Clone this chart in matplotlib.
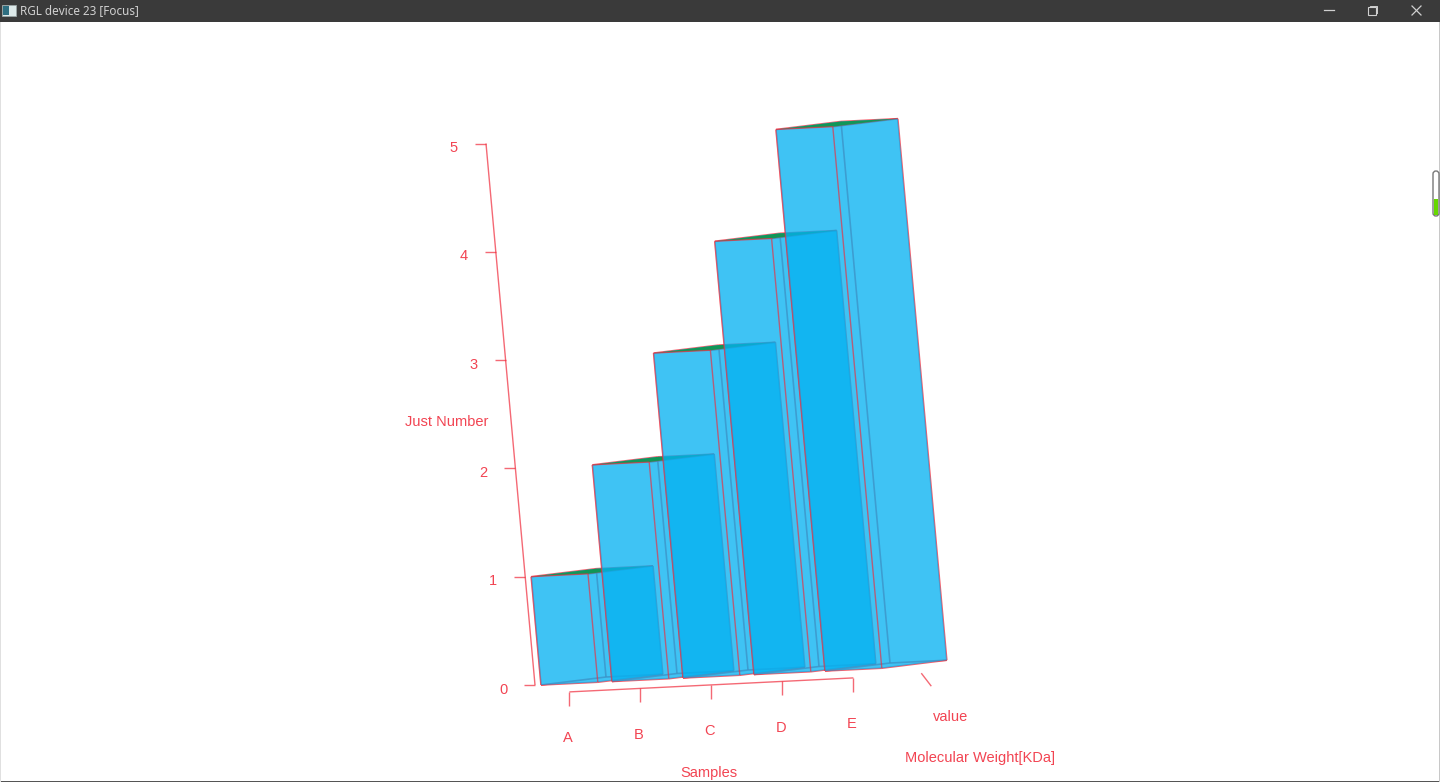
import numpy as np
import matplotlib
matplotlib.use("Agg")
import matplotlib.pyplot as plt
from matplotlib.patches import Polygon, Rectangle, FancyBboxPatch

samples = ["A", "B", "C", "D", "E"]
values = [1, 2, 3, 4, 5]
z_ticks = [0, 1, 2, 3, 4, 5]
x_title = "Samples"
y_title = "Molecular Weight[KDa]"
y_tick_label = "value"
z_title = "Just Number"
window_title = "RGL device 23 [Focus]"

RED = "#F02A3A"
FILL = "#04B1F1"
GREEN = "#109658"

plt.rcParams["font.family"] = ["Liberation Sans", "DejaVu Sans"]
fig = plt.figure(figsize=(14.4, 7.82), dpi=100)
ax = fig.add_axes([0, 0, 1, 1])
ax.set_xlim(0, 1440)
ax.set_ylim(782, 0)
ax.axis("off")

# scene projection: sample position, depth, value -> screen position
ORIGIN = np.array([541.0, 685.0])
EX = np.array([71.0, -3.5])
EY = np.array([65.0, -8.0])
EZ = np.array([-9.8, -108.3])
BAR_W = 0.8


def proj(x, y, z):
    return ORIGIN + x * EX + y * EY + z * EZ


def line(a, b, color=RED, lw=1.0, alpha=0.7, z=1):
    ax.plot([a[0], b[0]], [a[1], b[1]], color=color, lw=lw, alpha=alpha,
            zorder=z, solid_capstyle="butt")


# bars, drawn back to front along the sample axis
z = 2
for i, v in enumerate(values):
    x0, x1 = i, i + BAR_W
    fl0, fr0, br0, bl0 = [proj(a, b, 0) for a, b in ((x0, 0), (x1, 0), (x1, 1), (x0, 1))]
    fl1, fr1, br1, bl1 = [proj(a, b, v) for a, b in ((x0, 0), (x1, 0), (x1, 1), (x0, 1))]
    # hidden edges sit under the translucent body
    for a, b in ((fl0, fr0), (fr0, br0), (br0, bl0), (bl0, fl0), (bl0, bl1), (br0, br1),
                 (bl1, br1), (fl0, fl1), (bl1, fl1), (fr1, br1)):
        line(a, b, lw=1.2, alpha=0.75, z=z)
    z += 1
    ax.add_patch(Polygon([fl0, fr0, br0, br1, bl1, fl1], closed=True, facecolor=FILL,
                         edgecolor="none", alpha=0.766, zorder=z))
    z += 1
    ax.add_patch(Polygon([fl1, fr1, br1, bl1], closed=True, facecolor=GREEN,
                         edgecolor="none", zorder=z))
    z += 1
    line(fl1, fr1, lw=0.9, alpha=0.7, z=z)
    line(fr1, br1, lw=0.6, alpha=0.25, z=z)
    line(fr0, fr1, lw=1.0, alpha=0.65, z=z)
    line(fl0, fl1, lw=0.9, alpha=0.3, z=z)
    z += 1

# value axis
TXT = dict(color=RED, fontsize=10.5, ha="center", va="center", alpha=0.88)
base = proj(0, 0, 0) + np.array([-6, 0])
zt = np.array(z_ticks, dtype=float)
line(base + zt[0] * EZ, base + zt[-1] * EZ)
for t in z_ticks:
    p = base + t * EZ
    line(p, p + np.array([-11, 0]))
    ax.text(*(p + np.array([-32, 4.5])), str(t), **TXT)
ax.text(*(base + 2.44 * EZ + np.array([-64, 1])), z_title, **TXT)

# sample axis
ax_off = np.array([0, 8.3])
tick_off = np.array([0, 14])
lab_off = np.array([-1.5, 54.5])
cx = [i + BAR_W / 2 for i in range(len(samples))]
line(proj(cx[0], 0, 0) + ax_off, proj(cx[-1], 0, 0) + ax_off)
for c, s in zip(cx, samples):
    p = proj(c, 0, 0) + ax_off
    line(p, p + tick_off)
    ax.text(*(proj(c, 0, 0) + lab_off), s, **TXT)
ax.text(*(proj(np.mean(cx), 0, 0) + np.array([-2, 96])), x_title, **TXT)

# depth axis
p = proj(len(samples) - 1 + BAR_W, 0.5, 0)
line(p + np.array([7, 9]), p + np.array([17, 22]))
ax.text(*(p + np.array([36, 53])), y_tick_label, **TXT)
ax.text(*(p + np.array([66, 94])), y_title, **TXT)

# window frame
ax.add_patch(Rectangle((0, 0), 1440, 22, facecolor="#3A3A3A", edgecolor="none", zorder=50))
ax.add_patch(Rectangle((0, 781), 1440, 1, facecolor="#555555", edgecolor="none", zorder=50))
ax.add_patch(Rectangle((1439, 22), 1, 760, facecolor="#C8C8C8", edgecolor="none", zorder=50))
ax.add_patch(Rectangle((0, 22), 1, 760, facecolor="#E0E0E0", edgecolor="none", zorder=50))
ax.add_patch(Rectangle((2, 5), 14, 11, facecolor="#DCE8E8", edgecolor="#9AA5A5", lw=0.6, zorder=51))
ax.add_patch(Rectangle((3, 6), 6, 9, facecolor="#2E6E80", edgecolor="none", zorder=52))
ax.text(20, 11, window_title, color="#D0D0D0", fontsize=8.45, family="Noto Sans",
        ha="left", va="center", zorder=52)
ax.plot([1324, 1334], [10, 10], color="#D0D0D0", lw=0.9, zorder=52)
ax.add_patch(Rectangle((1368, 7), 7.5, 7.5, facecolor="none", edgecolor="#D0D0D0", lw=0.8, zorder=52))
ax.plot([1370, 1370, 1376.5, 1376.5], [7, 6, 6, 12.5], color="#D0D0D0", lw=0.7, zorder=52)
ax.plot([1412, 1421], [6, 15], color="#D0D0D0", lw=0.9, zorder=52)
ax.plot([1412, 1421], [15, 6], color="#D0D0D0", lw=0.9, zorder=52)

# scroll indicator on the window edge
ax.add_patch(FancyBboxPatch((1433, 171), 6, 45, boxstyle="round,pad=0,rounding_size=3",
                            facecolor="#FFFFFF", edgecolor="#777777", lw=1.0, zorder=52))
ax.add_patch(Rectangle((1434, 199), 3.5, 16, facecolor="#66D800", edgecolor="none", zorder=53))

fig.savefig("out.png", dpi=100)
